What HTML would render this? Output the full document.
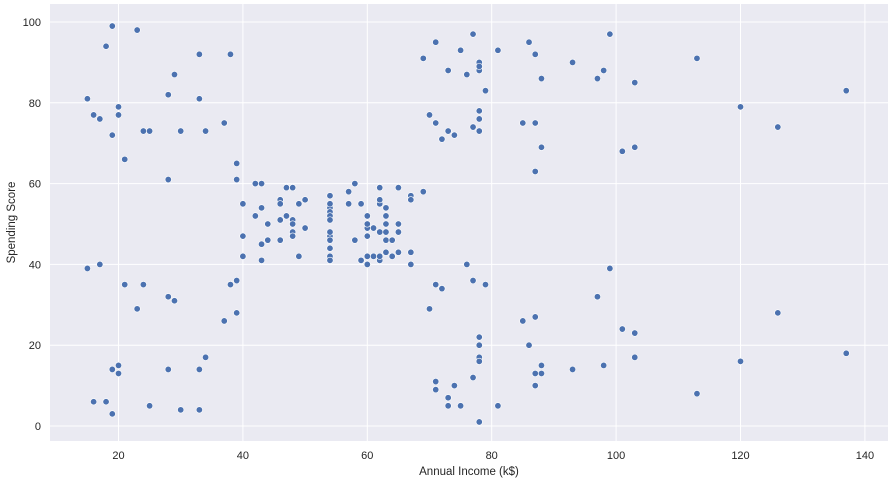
<!DOCTYPE html>
<html><head><meta charset="utf-8"><style>
body{margin:0;background:#fff;font-family:"Liberation Sans",sans-serif;}
svg text{font-family:"Liberation Sans",sans-serif;fill:#262626;}
</style></head><body>
<svg id="chart" width="893" height="483" xmlns="http://www.w3.org/2000/svg"></svg>
<script>
const income=[15,15,16,16,17,17,18,18,19,19,19,19,20,20,20,20,21,21,23,23,24,24,25,25,28,28,28,28,29,29,30,30,33,33,33,33,34,34,37,37,38,38,39,39,39,39,40,40,40,40,42,42,43,43,43,43,44,44,46,46,46,46,47,47,48,48,48,48,48,48,49,49,50,50,54,54,54,54,54,54,54,54,54,54,54,54,57,57,58,58,59,59,60,60,60,60,60,60,61,61,62,62,62,62,62,62,63,63,63,63,63,63,64,64,65,65,65,65,67,67,67,67,69,69,70,70,71,71,71,71,71,71,72,72,73,73,73,73,74,74,75,75,76,76,77,77,77,77,78,78,78,78,78,78,78,78,78,78,78,78,79,79,81,81,85,85,86,86,87,87,87,87,87,87,88,88,88,88,93,93,97,97,98,98,99,99,101,101,103,103,103,103,113,113,120,120,126,126,137,137];
const score=[39,81,6,77,40,76,6,94,3,72,14,99,15,77,13,79,35,66,29,98,35,73,5,73,14,82,32,61,31,87,4,73,4,92,14,81,17,73,26,75,35,92,36,61,28,65,55,47,42,42,52,60,54,60,45,41,50,46,51,46,56,55,52,59,51,59,50,48,59,47,55,42,49,56,47,54,53,48,52,42,51,55,41,44,57,46,58,55,60,46,55,41,49,40,42,52,47,50,42,49,41,48,59,55,56,42,50,46,43,48,52,54,42,46,48,50,43,59,43,57,56,40,58,91,29,77,35,95,11,75,9,75,34,71,5,88,7,73,10,72,5,93,40,87,12,97,36,74,22,90,17,88,20,76,16,89,1,78,1,73,35,83,5,93,26,75,20,95,27,63,13,75,10,92,13,86,15,69,14,90,32,86,15,88,39,97,24,68,17,85,23,69,8,91,16,79,28,74,18,83];
const xTicks=[20,40,60,80,100,120,140];
const yTicks=[0,20,40,60,80,100];
const NS="http://www.w3.org/2000/svg";
const svg=document.getElementById('chart');
const L=50,R=888,T=4,B=441;
const sx=v=>118.5+(v-20)*6.22;
const sy=v=>426-v*4.04;
function mk(tag,at){const e=document.createElementNS(NS,tag);for(const k in at)e.setAttribute(k,at[k]);svg.appendChild(e);return e;}
const bg=mk('rect',{x:L,y:T,width:R-L,height:B-T,fill:'#eaeaf2'});


xTicks.forEach(t=>{
 const g=mk('line',{x1:sx(t),x2:sx(t),y1:T,y2:B,stroke:'#fff','stroke-width':1});
 
 
 const tx=mk('text',{x:sx(t),y:B+18,'text-anchor':'middle','font-size':11});
 tx.textContent=t;
 
 
});
yTicks.forEach(t=>{
 const g=mk('line',{x1:L,x2:R,y1:sy(t),y2:sy(t),stroke:'#fff','stroke-width':1});
 
 
 const tx=mk('text',{x:L-9,y:sy(t)+4,'text-anchor':'end','font-size':11});
 tx.textContent=t;
 
 
});
income.forEach((v,i)=>{
 const c=mk('circle',{cx:sx(v),cy:sy(score[i]),r:3.2,fill:'#4c72b0',stroke:'#fff','stroke-width':0.6});
 
 
});
const xl=mk('text',{x:(L+R)/2,y:475,'text-anchor':'middle','font-size':11.5});
xl.textContent='Annual Income (k$)';


const yl=mk('text',{x:15,y:(T+B)/2,'text-anchor':'middle','font-size':11.5,transform:`rotate(-90 15 ${(T+B)/2})`});
yl.textContent='Spending Score';


</script>
</body></html>
